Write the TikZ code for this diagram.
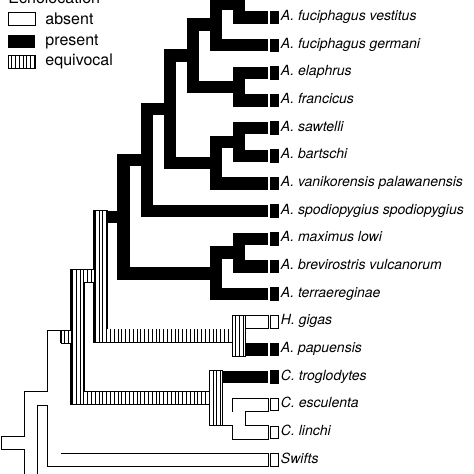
\documentclass[tikz,border=0pt]{standalone}
\usepackage{fontspec}
\setmainfont{TeX Gyre Heros}
\usetikzlibrary{patterns.meta}

% bars of the tree: horizontal (parent column/child column/y) and vertical (column/y top/y bottom)
\newcommand{\hbars}[2]{\foreach \a/\b/\y in #2 {\path[#1] ({14.3+23.1*(\a)},\y-6.2) rectangle ({14.3+23.1*(\b)},\y+6.2);}}
\newcommand{\vbars}[2]{\foreach \k/\ya/\yb in #2 {\path[#1] ({1.9+23.1*(\k)},\ya-6.2) rectangle ({14.3+23.1*(\k)},\yb+6.2);}}

\begin{document}
\begin{tikzpicture}[x=1pt, y=-1pt, line width=0.9pt, every node/.style={inner sep=0pt},
    taxon/.style={anchor=base west, font=\fontsize{14}{16}\selectfont\itshape},
    legtext/.style={anchor=base west, font=\fontsize{16}{19}\selectfont},
    equiv/.style={pattern={Lines[angle=90, distance=3.8pt, line width=0.6pt]}}]
    \useasboundingbox (0,0) rectangle (474,474);
    \clip (0,0) rectangle (474,474);

    % Branches, sorted by state
    \def\blackH{9/10/3.7, 10/11/17.5, 9/11/45.2, 8/9/24.4, 10/11/72.8, 10/11/100.5, 8/10/86.7,
        7/8/55.5, 10/11/128.1, 10/11/155.8, 9/10/142.0, 9/11/183.5, 7/9/162.7, 6/7/109.1,
        6/11/211.1, 5/6/160.1, 10/11/238.8, 10/11/266.4, 9/10/252.6, 9/11/294.1, 5/9/273.4,
        4/5/216.7, 10/11/349.4, 9/11/377.1}
    \def\blackV{10/-10.2/17.5, 9/3.7/45.2, 10/72.8/100.5, 8/24.4/86.7, 10/128.1/155.8,
        9/142.0/183.5, 7/55.5/162.7, 6/109.1/211.1, 10/238.8/266.4, 9/252.6/294.1, 5/160.1/273.4}
    \def\equivH{2/3/337.0, 3/4/276.2, 4/10/335.6, 3/9/397.8}
    \def\equivV{4/216.7/335.6, 10/321.8/349.4, 3/276.2/397.8, 9/377.1/418.6}
    \def\whiteH{-0.55/1/443.1, 1/2/398.5, 2/11/460.1, 10/11/321.8, 9/10/418.6, 10/11/404.7, 10/11/432.4}
    \def\whiteV{1/398.5/487.7, 2/337.0/460.1, 10/404.7/432.4}

    % Outline of the open bars, then their inside
    \hbars{draw, line width=1.8pt}{\whiteH}
    \vbars{draw, line width=1.8pt}{\whiteV}
    \hbars{draw, line width=1.8pt}{\equivH}
    \vbars{draw, line width=1.8pt}{\equivV}
    \hbars{fill=white}{\whiteH}
    \vbars{fill=white}{\whiteV}
    \hbars{fill=white}{\equivH}
    \vbars{fill=white}{\equivV}

    % Equivocal: vertical hatching
    \hbars{equiv}{\equivH}
    \vbars{equiv}{\equivV}
    \foreach \a/\b/\y in \equivH {\draw ({14.3+23.1*(\a)},\y-6.2) -- ++(0,12.4) ({14.3+23.1*(\b)},\y-6.2) -- ++(0,12.4);}
    \foreach \k/\ya/\yb in \equivV {\draw ({1.9+23.1*(\k)},\ya-6.2) -- ({1.9+23.1*(\k)},\yb+6.2)
        ({14.3+23.1*(\k)},\ya-6.2) -- ({14.3+23.1*(\k)},\yb+6.2);}

    % Present: solid bars
    \hbars{fill=black}{\blackH}
    \vbars{fill=black}{\blackV}

    % Terminal states
    \foreach \r/\c in {0/black, 1/black, 2/black, 3/black, 4/black, 5/black, 6/black, 7/black, 8/black,
        9/black, 10/black, 11/white, 12/black, 13/black, 14/white, 15/white, 16/white}
        \filldraw[fill=\c] (270.7,{17.5+27.66*\r-6.2}) rectangle (278.3,{17.5+27.66*\r+6.2});

    % Taxa
    \foreach \r/\nm/\txt in {0/vestitus/A. fuciphagus vestitus, 1/germani/A. fuciphagus germani,
        2/elaphrus/A. elaphrus, 3/francicus/A. francicus, 4/sawtelli/A. sawtelli,
        5/bartschi/A. bartschi, 6/vanikorensis/A. vanikorensis palawanensis,
        7/spodiopygius/A. spodiopygius spodiopygius, 8/maximus/A. maximus lowi,
        9/brevirostris/A. brevirostris vulcanorum, 10/terraereginae/A. terraereginae,
        11/gigas/H. gigas, 12/papuensis/A. papuensis, 13/troglodytes/C. troglodytes,
        14/esculenta/C. esculenta, 15/linchi/C. linchi, 16/swifts/Swifts}
        \node[taxon] (\nm) at (280.5,{17.5+27.66*\r+3}) {\txt};

    % Legend
    \node[legtext] (legtitle) at (8,3.3) {Echolocation};
    \draw (8.3,12.7) rectangle (35,25);
    \fill (8.3,35) rectangle (35,48.3);
    \draw[equiv] (8.3,55) rectangle (35,68.3);
    \draw (8.3,55) rectangle (35,68.3);
    \node[legtext] (absent) at (45,24) {absent};
    \node[legtext] (present) at (45,45.7) {present};
    \node[legtext] (equivocal) at (45,65) {equivocal};
\end{tikzpicture}
\end{document}
